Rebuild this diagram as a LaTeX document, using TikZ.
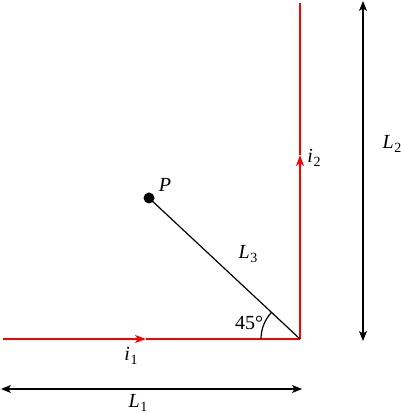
\documentclass[tikz,border=0pt]{standalone}
\usepackage{fontspec}
\setmainfont{Liberation Serif}
\usetikzlibrary{arrows.meta}
\tikzset{
  wire/.style={red, line width=1.3pt},
  wirearrow/.style={red, line width=1.3pt, -{Stealth[length=11pt,width=8pt,inset=3pt]}},
  dimline/.style={black, line width=1.2pt, {Stealth[length=10pt,width=8pt,inset=2.5pt]}-{Stealth[length=10pt,width=8pt,inset=2.5pt]}},
  lbl/.style={inner sep=0pt, font=\fontsize{20}{24}\selectfont}
}
\newcommand{\sub}[2]{\textit{#1}\kern0.5pt\raisebox{-0.4ex}{\fontsize{14}{16}\selectfont #2}}
\begin{document}
\begin{tikzpicture}[x=1pt,y=1pt]
\useasboundingbox (0,0) rectangle (400,414);
\coordinate (A) at (3,75);
\coordinate (M1) at (146,75);
\coordinate (O) at (300,75);
\coordinate (M2) at (300,259);
\coordinate (B) at (300,411);
\coordinate (P) at (149,216);
\coordinate (L1a) at (1,25);
\coordinate (L1b) at (302,25);
\coordinate (L2a) at (363,413);
\coordinate (L2b) at (363,73);
% wires
\draw[wirearrow] (A) -- (M1);
\draw[wire] (M1) -- (O);
\draw[wirearrow] (O) -- (M2);
\draw[wire] (M2) -- (B);
% line to P
\draw[black, line width=1.2pt] (P) -- (O);
\fill (P) circle (5.5);
% angle arc
\draw[black, line width=1.2pt] (O) ++(180:39) arc[start angle=180, end angle=137, radius=39];
% dimension lines
\draw[dimline] (L1a) -- (L1b);
\draw[dimline] (L2a) -- (L2b);
% labels
\node[lbl] (lP) at (165,229) {\textit{P}};
\node[lbl] (lL3) at (248,160) {\sub{L}{3}};
\node[lbl] (lang) at (249,91) {45°};
\node[lbl] (li1) at (131,58) {\sub{i}{1}};
\node[lbl] (li2) at (314,256) {\sub{i}{2}};
\node[lbl] (lL1) at (138,11) {\sub{L}{1}};
\node[lbl] (lL2) at (392,270) {\sub{L}{2}};
\end{tikzpicture}
\end{document}
